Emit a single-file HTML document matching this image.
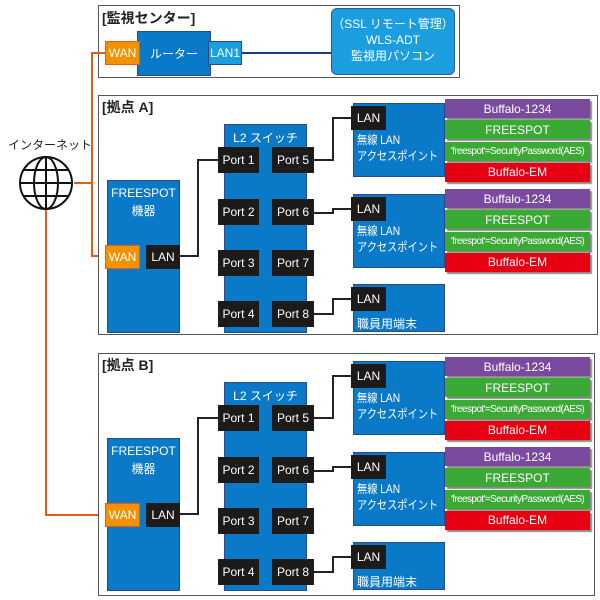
<!DOCTYPE html>
<html><head><meta charset="utf-8"><style>
body{margin:0;width:600px;height:600px;background:#fff;position:relative;overflow:hidden;font-family:"Liberation Sans","Noto Sans CJK JP",sans-serif;}
.a{position:absolute;box-sizing:border-box;}
.frame{border:1.5px solid #555;background:#fff;}
.blue{background:#0a79c7;border:1px solid #2a4a8a;}
.k{background:#1d1a1a;color:#fff;font-size:12px;display:flex;align-items:center;justify-content:center;}
.o{background:#f39200;border:1.5px solid #e85a10;color:#fff;font-size:12px;display:flex;align-items:center;justify-content:center;}
.w{color:#fff;font-size:12px;}
.bar{color:#fff;font-size:12px;display:flex;align-items:center;justify-content:center;box-shadow:2px 2px 1px #888;}
.pu{background:#7a4a9e;}.gr{background:#3aaa35;}.rd{background:#e60012;}
.t{position:absolute;font-size:14px;color:#222;font-weight:bold;}
.cond{transform:scaleX(0.85);transform-origin:0 0;white-space:nowrap;}
</style></head><body>
<div class="a frame" style="left:98px;top:5px;width:362px;height:73px;"></div>
<div class="t" style="left:102px;top:8px;">[監視センター]</div>
<div class="a blue" style="left:137px;top:31px;width:74px;height:45px;"></div>
<div class="a w" style="left:150px;top:45px;">ルーター</div>
<div class="a o" style="left:105px;top:41px;width:35px;height:24px;">WAN</div>
<div class="a" style="left:208px;top:41px;width:34px;height:24px;background:#1a9ee0;border:1px solid #2a4a8a;color:#fff;font-size:12px;display:flex;align-items:center;justify-content:center;">LAN1</div>
<div class="a" style="left:331px;top:8px;width:124px;height:67px;background:#1a9ee0;border:1.5px solid #2a5aa0;border-radius:6px;color:#fff;font-size:12px;text-align:center;line-height:16px;padding-top:7px;">（SSL リモート管理）<br>WLS-ADT<br>監視用パソコン</div>

<svg class="a" style="left:0;top:0" width="600" height="600">
<line x1="242" y1="53" x2="331" y2="53" stroke="#1a3a8a" stroke-width="2"/>
<polyline points="105,53 92,53 92,256 105,256" fill="none" stroke="#e85a10" stroke-width="2"/>
<line x1="74" y1="183" x2="92" y2="183" stroke="#e85a10" stroke-width="2"/>
<polyline points="46,210 46,515 105,515" fill="none" stroke="#e85a10" stroke-width="2"/>
<g fill="none" stroke="#111" stroke-width="2">
<circle cx="46" cy="183" r="26"/>
<ellipse cx="46" cy="183" rx="12" ry="26"/>
<line x1="46" y1="157" x2="46" y2="209"/>
<line x1="20" y1="183" x2="72" y2="183"/>
<line x1="24" y1="170" x2="68" y2="170"/><line x1="24" y1="196" x2="68" y2="196"/>
</g>
</svg>
<div class="a" style="left:8px;top:136px;font-size:12px;color:#222;">インターネット</div>

<div id="A"></div>
<script>
function site(off,label){
var h='';
h+='<div class="a frame" style="left:98px;top:'+(95+off)+'px;width:'+(off?497:500)+'px;height:'+(off?243:240)+'px;"></div>';
h+='<div class="t" style="left:102px;top:'+(97+off)+'px;">'+label+'</div>';
h+='<div class="a blue" style="left:107px;top:'+(180+off)+'px;width:73px;height:153px;"></div>';
h+='<div class="a w" style="left:107px;top:'+(184+off)+'px;width:73px;text-align:center;line-height:18px;">FREESPOT<br>機器</div>';
h+='<div class="a o" style="left:105px;top:'+(245+off)+'px;width:35px;height:24px;">WAN</div>';
h+='<div class="a k" style="left:146px;top:'+(245+off)+'px;width:34px;height:24px;">LAN</div>';
h+='<div class="a blue" style="left:224px;top:'+(124+off)+'px;width:83px;height:209px;"></div>';
h+='<div class="a w" style="left:224px;top:'+(129+off)+'px;width:83px;text-align:center;">L2 スイッチ</div>';
var ys=[160,212,263,314];
for(var i=0;i<4;i++){
h+='<div class="a k" style="left:218px;top:'+(ys[i]-13+off)+'px;width:41px;height:26px;">Port '+(i+1)+'</div>';
h+='<div class="a k" style="left:272px;top:'+(ys[i]-13+off)+'px;width:42px;height:26px;">Port '+(i+5)+'</div>';}
var aps=[[103,118,99],[194,209,189]];
for(var j=0;j<2;j++){var y=aps[j][0]+off,ly=aps[j][1]+off,by=aps[j][2]+off;
h+='<div class="a blue" style="left:353px;top:'+y+'px;width:92px;height:74px;"></div>';
h+='<div class="a k" style="left:351px;top:'+(ly-12)+'px;width:35px;height:24px;">LAN</div>';
h+='<div class="a w cond" style="left:357px;top:'+(ly+14)+'px;line-height:16px;">無線 LAN<br>アクセスポイント</div>';
var c=[['pu','Buffalo-1234'],['gr','FREESPOT'],['gr',"'freespot'=SecurityPassword(AES)"],['rd','Buffalo-EM']];
for(var k=0;k<4;k++){h+='<div class="a bar '+c[k][0]+'" style="left:445px;top:'+(by+k*21.3)+'px;width:145px;height:19px;'+(k==2?'font-size:10px;letter-spacing:-0.6px;':'')+'">'+c[k][1]+'</div>';}}
h+='<div class="a blue" style="left:353px;top:'+(284+off)+'px;width:92px;height:48px;"></div>';
h+='<div class="a k" style="left:351px;top:'+(287+off)+'px;width:35px;height:24px;">LAN</div>';
h+='<div class="a w" style="left:357px;top:'+(315+off)+'px;">職員用端末</div>';
h+='<svg class="a" style="left:0;top:'+off+'px" width="600" height="340"><g fill="none" stroke="#222" stroke-width="2"><polyline points="180,256 198,256 198,160 218,160"/><polyline points="314,160 333,160 333,118 351,118"/><polyline points="314,213 333,213 333,209 351,209"/><polyline points="314,314 333,314 333,299 351,299"/></g></svg>';
return h;}
document.getElementById('A').outerHTML=site(0,'[拠点 A]')+site(258,'[拠点 B]');
</script>
</body></html>
